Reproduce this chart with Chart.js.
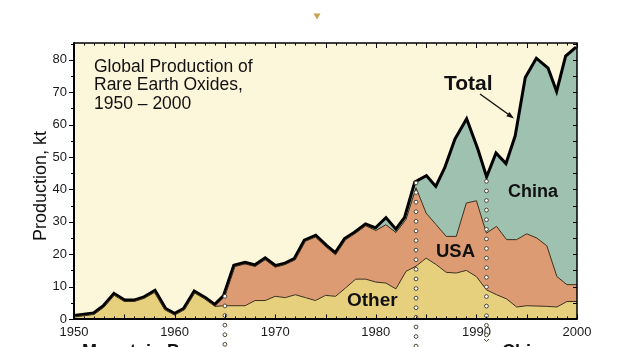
<!DOCTYPE html>
<html><head><meta charset="utf-8">
<script src="https://cdn.jsdelivr.net/npm/chart.js@4/dist/chart.umd.min.js"></script>
<style>html,body{margin:0;padding:0;background:#fff;}canvas{display:block;}</style>
</head><body>
<canvas id="c" width="640" height="347"></canvas>
<script>
// ---- data (kt of rare earth oxides) ----
const years = [1950,1951,1952,1953,1954,1955,1956,1957,1958,1959,1960,1961,1962,1963,1964,1965,1966,1967,1968,1969,1970,1971,1972,1973,1974,1975,1976,1977,1978,1979,1980,1981,1982,1983,1984,1985,1986,1987,1988,1989,1990,1991,1992,1993,1994,1995,1996,1997,1998,1999,2000];
const otherValues = [0.6,1.0,1.4,3.7,7.3,5.4,5.4,6.4,8.2,2.9,1.2,2.9,8.0,6.2,3.9,4.1,4.1,4.1,5.7,5.7,7.0,6.6,7.5,6.6,5.7,7.3,7.0,9.6,12.3,12.3,11.4,11.1,9.3,14.7,16.3,18.8,16.8,14.4,14.2,15.0,13.1,9.0,7.5,6.2,3.7,4.1,4.0,3.9,3.7,5.4,5.4];
const usaValues = [0,0,0,0,0,0,0,0,0,0,0,0,0,0,0,2.9,12.1,12.9,10.5,12.6,9.0,10.2,10.8,17.4,19.6,15.1,12.8,14.9,14.2,16.5,15.9,18.0,17.4,16.0,24.2,13.9,12.3,11.1,11.3,20.8,23.4,17.5,21.1,18.3,20.8,22.2,21.0,18.7,9.4,5.2,5.2];
const chinaValues = [0,0,0,0,0,0,0,0,0,0,0,0,0,0,0,0,0,0,0,0,0,0,0,0,0,0,0,0,0,0,0.3,1.5,0.3,0.5,1.5,11.0,11.0,21.1,29.8,24.9,15.8,16.0,21.8,22.6,31.9,48.1,54.8,54.6,55.6,70.3,73.0];
const xTickLabels = [1950,1960,1970,1980,1990,2000];
const yTickLabels = [0,10,20,30,40,50,60,70,80];
const markerYears = [1965, 1984, 1991];
const titleLines = ['Global Production of','Rare Earth Oxides,','1950 \u2013 2000'];
const seriesNames = ['Other','USA','China','Total'];

const FONT = '"Liberation Sans", Arial, Helvetica, sans-serif';
const pts = arr => years.map((y,i)=>({x:y, y:arr[i]}));
const totalValues = years.map((y,i)=>otherValues[i]+usaValues[i]+chinaValues[i]);

const deco = {
  id:'deco',
  beforeDraw(chart){
    const {ctx, chartArea:a} = chart;
    ctx.save();
    ctx.fillStyle = '#FCF6DA';
    ctx.fillRect(a.left, a.top, a.right-a.left, a.bottom-a.top);
    ctx.fillStyle = '#C9A24E';
    ctx.beginPath(); ctx.moveTo(313.5,13.5); ctx.lineTo(320.5,13.5); ctx.lineTo(317,19.5); ctx.closePath(); ctx.fill();
    ctx.restore();
  },
  afterDatasetsDraw(chart){
    const {ctx, chartArea:a, scales:{x, y}} = chart;
    ctx.save();
    // dotted marker lines
    markerYears.forEach((yr,k)=>{
      const px = x.getPixelForValue(yr);
      const i = years.indexOf(yr);
      const top = y.getPixelForValue(totalValues[i]);
      const end = k === 2 ? 336 : 350;
      ctx.lineWidth = 1; ctx.strokeStyle = '#4f4736'; ctx.fillStyle = '#fff';
      for (let py = top; py < end; py += 9.6) {
        ctx.beginPath(); ctx.arc(px, py, 1.9, 0, Math.PI*2); ctx.fill(); ctx.stroke();
      }
      if (k === 2) {
        ctx.beginPath(); ctx.moveTo(px-2.5, 339); ctx.lineTo(px, 341.5); ctx.lineTo(px+2.5, 339); ctx.stroke();
      }
    });
    // frame
    ctx.strokeStyle = '#000';
    ctx.lineWidth = 1.5;
    ctx.beginPath(); ctx.moveTo(a.left, a.top); ctx.lineTo(a.right, a.top); ctx.lineTo(a.right, a.bottom); ctx.stroke();
    ctx.lineWidth = 2;
    ctx.beginPath(); ctx.moveTo(a.left, a.top-0.75); ctx.lineTo(a.left, a.bottom); ctx.lineTo(a.right+0.75, a.bottom); ctx.stroke();
    ctx.lineWidth = 1;
    for (let yr = 1950; yr <= 2000; yr++) {
      const px = Math.round(x.getPixelForValue(yr)) + 0.5;
      const major = yr % 5 === 0;
      ctx.beginPath(); ctx.moveTo(px, a.top); ctx.lineTo(px, a.top + (major?5:2.5)); ctx.stroke();
      ctx.beginPath(); ctx.moveTo(px, a.bottom); ctx.lineTo(px, a.bottom - (major?4.5:2.5)); ctx.stroke();
    }
    for (let v = 0; v <= 85; v += 5) {
      const py = Math.round(y.getPixelForValue(v)) + 0.5;
      const major = v % 10 === 0;
      ctx.beginPath(); ctx.moveTo(a.left, py); ctx.lineTo(a.left - (major?5:3), py); ctx.stroke();
      ctx.beginPath(); ctx.moveTo(a.right, py); ctx.lineTo(a.right - 4, py); ctx.stroke();
    }
    ctx.restore();
  },
  afterDraw(chart){
    const {ctx} = chart;
    ctx.save();
    ctx.fillStyle = '#111';
    ctx.save();
    ctx.translate(41, 186); ctx.rotate(-Math.PI/2);
    ctx.font = '18px ' + FONT; ctx.textAlign = 'center'; ctx.textBaseline = 'middle';
    ctx.fillText('Production, kt', 0, 0);
    ctx.restore();
    ctx.font = '17.5px ' + FONT; ctx.textAlign = 'left'; ctx.textBaseline = 'middle';
    titleLines.forEach((t,i)=>ctx.fillText(t, 94, 67 + i*18.5));
    ctx.font = 'bold 21px ' + FONT;
    ctx.fillText(seriesNames[3], 444, 84);
    ctx.font = 'bold 18px ' + FONT;
    ctx.fillText(seriesNames[2], 508, 192);
    ctx.font = 'bold 18.5px ' + FONT;
    ctx.fillText(seriesNames[1], 436, 252);
    ctx.font = 'bold 19px ' + FONT;
    ctx.fillText(seriesNames[0], 347, 301);
    ctx.strokeStyle = '#111'; ctx.lineWidth = 1.4;
    const x1=480, y1=94, x2=514, y2=118.5;
    ctx.beginPath(); ctx.moveTo(x1,y1); ctx.lineTo(x2-4,y2-3); ctx.stroke();
    const ang = Math.atan2(y2-y1, x2-x1);
    ctx.beginPath(); ctx.moveTo(x2,y2);
    ctx.lineTo(x2-8*Math.cos(ang-0.35), y2-8*Math.sin(ang-0.35));
    ctx.lineTo(x2-8*Math.cos(ang+0.35), y2-8*Math.sin(ang+0.35));
    ctx.closePath(); ctx.fill();
    ctx.font = 'bold 18px ' + FONT; ctx.textBaseline = 'alphabetic';
    ctx.fillText('Mountain Pass', 82, 356.5);
    ctx.fillText('China', 502, 356.5);
    ctx.restore();
  }
};

new Chart(document.getElementById('c'), {
  type: 'line',
  data: {
    datasets: [
      {label: seriesNames[0], data: pts(otherValues), stack:'s', fill:'origin', backgroundColor:'#E6D07E', borderColor:'#3b2e1c', borderWidth:1, pointRadius:0, tension:0},
      {label: seriesNames[1], data: pts(usaValues), stack:'s', fill:'-1', backgroundColor:'#DD9B73', borderColor:'#3b2e1c', borderWidth:1, pointRadius:0, tension:0},
      {label: seriesNames[2], data: pts(chinaValues), stack:'s', fill:'-1', backgroundColor:'#9EC1B0', borderColor:'rgba(0,0,0,0)', borderWidth:0, pointRadius:0, tension:0},
      {label: seriesNames[3], data: pts(totalValues), stack:'t', fill:false, borderColor:'#000', borderWidth:6, borderJoinStyle:'miter', pointRadius:0, tension:0}
    ]
  },
  options: {
    responsive:false, animation:false, devicePixelRatio:1,
    layout:{padding:{top:43, right:63, left:0, bottom:0}},
    plugins:{legend:{display:false}, tooltip:{enabled:false}},
    scales:{
      x:{type:'linear', min:1950, max:2000,
         afterFit(s){ s.height = 28; },
         afterBuildTicks(s){ s.ticks = xTickLabels.map(v=>({value:v})); },
         grid:{display:false, drawTicks:false}, border:{display:false},
         ticks:{padding:6, color:'#1a1a1a', font:{family:FONT, size:13}, maxRotation:0, autoSkip:false, callback:v=>String(v)}},
      y:{type:'linear', stacked:true, min:0, max:85.2,
         afterFit(s){ s.width = 74; },
         afterBuildTicks(s){ s.ticks = yTickLabels.map(v=>({value:v})); },
         grid:{display:false, drawTicks:false}, border:{display:false},
         ticks:{padding:7, color:'#1a1a1a', font:{family:FONT, size:13}, callback:v=>String(v)}}
    }
  },
  plugins:[deco]
});
</script>
</body></html>
